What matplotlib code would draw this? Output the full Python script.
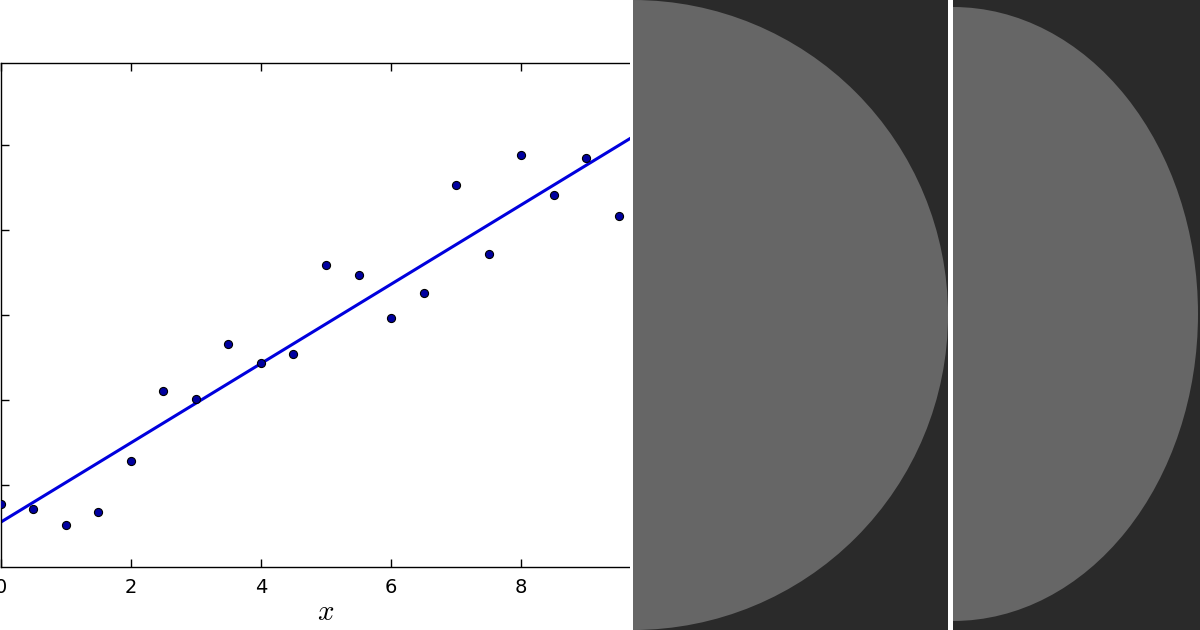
import numpy as np
import matplotlib
matplotlib.use("Agg")
import matplotlib.pyplot as plt
from matplotlib.patches import Ellipse, Rectangle

plt.style.use("classic")

# ---- data ----
x_vals = [0.0, 0.5, 1.0, 1.5, 2.0, 2.5, 3.0, 3.5, 4.0, 4.5,
          5.0, 5.5, 6.0, 6.5, 7.0, 7.5, 8.0, 8.5, 9.0, 9.5]
y_vals = [-1.12, -1.41, -2.35, -1.59, 1.41, 5.53, 5.06, 8.29, 7.18, 7.71,
          12.94, 12.35, 9.82, 11.29, 17.65, 13.59, 19.41, 17.06, 19.24, 15.82]
x_ticks = [0, 2, 4, 6, 8, 10]
y_ticks = [0, 5, 10, 15, 20]

# shapes in the two dark panels (centre x, centre y, width, height) in panel units
shape1 = (0.0, 315.0, 630.0, 630.0)
shape2 = (0.0, 314.0, 490.0, 614.0)

W, H = 1200, 630
fig = plt.figure(figsize=(12, 6.3), dpi=100, facecolor="white")

def box(x0, y0, x1, y1):
    # pixel box (top-left origin) -> figure fraction rect
    return [x0 / W, 1 - y1 / H, (x1 - x0) / W, (y1 - y0) / H]

# ---- scatter / regression panel (right part hidden behind the dark panels) ----
ax = fig.add_axes(box(0.5, 63, 651.5, 567))
ax.scatter(x_vals, y_vals, s=34, c="#0000a0", edgecolors="black",
           linewidths=0.8, zorder=3)
coef = np.polyfit(x_vals, y_vals, 1)
xx = np.array([-0.5, 10.5])
ax.plot(xx, np.polyval(coef, xx), color="#0000dd", lw=2.2, zorder=2)
ax.set_xlim(0, 10)
ax.set_ylim(-4.82, 24.82)
ax.set_xticks(x_ticks)
ax.set_yticks(y_ticks)
ax.set_yticklabels([])
ax.tick_params(axis="both", direction="in", length=6, width=1,
               labelsize=14, pad=8)
ax.set_xlabel(r"$x$", fontsize=21, labelpad=1)

# white strip between the plot and the first dark panel
fig.patches.append(Rectangle((630 / W, 0), 3 / W, 1, transform=fig.transFigure,
                             facecolor="white", edgecolor="none", zorder=5))

# ---- dark panels with grey shapes ----
for (x0, x1), shp in [((633, 948), shape1), ((953, 1200), shape2)]:
    pax = fig.add_axes(box(x0, 0, x1, 630))
    pax.set_zorder(10)
    pax.set_facecolor("#2a2a2a")
    pax.set_xlim(0, x1 - x0)
    pax.set_ylim(630, 0)
    pax.add_patch(Ellipse((shp[0], shp[1]), shp[2], shp[3],
                          facecolor="#666666", edgecolor="none"))
    for s in pax.spines.values():
        s.set_visible(False)
    pax.set_xticks([])
    pax.set_yticks([])

fig.savefig("out.png", dpi=100, facecolor="white")
